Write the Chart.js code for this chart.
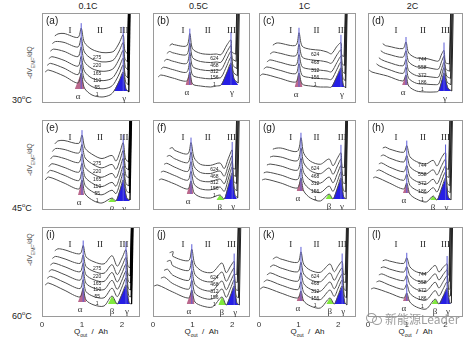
<!DOCTYPE html>
<html>
<head>
<meta charset="utf-8">
<script src="https://cdn.jsdelivr.net/npm/chart.js@4.4.1/dist/chart.umd.min.js"></script>
<style>
  body { margin: 0; background: #fff; }
  #wrap { position: relative; width: 474px; height: 343px; overflow: hidden; font-family: Arial, "Liberation Sans", sans-serif; color: #222; }
  #wrap canvas { position: absolute; }
  .lbl { position: absolute; white-space: nowrap; }
  .ttl { font-size: 9px; width: 60px; text-align: center; }
  .temp { font-size: 9px; }
  .temp sup { font-size: 6px; }
  .ylab { font-size: 7px; color: #555; width: 70px; text-align: center; transform: rotate(-90deg); }
  .xlab { font-size: 8px; width: 80px; text-align: center; }
  .xlab sub, .ylab sub { font-size: 5px; }
  .wm { font-family: "Noto Sans CJK SC", sans-serif; font-size: 12px; color: rgba(140,140,140,0.85); }
  .ring { position: absolute; border: 1px solid rgba(140,140,140,0.85); border-radius: 50%; }
</style>
</head>
<body>
<div id="wrap"></div>
<script>
// ---- data ----
const columnTitles = ['0.1C', '0.5C', '1C', '2C'];
const rowTemps = ['30', '45', '60'];
const panelNames = ['a', 'b', 'c', 'd', 'e', 'f', 'g', 'h', 'i', 'j', 'k', 'l'];
const xTicks = [0, 1, 2];

// cycle numbers written next to the curves (bottom curve first)
const cycleLabels = [
  ['1', '55', '110', '165', '220', '275'],
  ['1', '156', '312', '468', '624'],
  ['1', '156', '312', '468', '624'],
  ['1', '186', '372', '558', '744']
];
const cycleLabelQ = [1.38, 1.55, 1.42, 1.4];
const cycleLabelGap = [0.97, 0.8, 0.86, 1.0];
const numeralQ = [[0.7, 1.45, 2.05], [0.76, 1.38, 1.98], [0.8, 1.45, 2.1], [0.72, 1.42, 2.0]];
// where each curve of a column starts (Q, Ah) and how far its wall sits left
const curveStarts = [
  [0.08, 0.13, 0.17, 0.21, 0.26, 0.32],
  [0.1, 0.2, 0.28, 0.35, 0.42],
  [0.03, 0.12, 0.2, 0.28, 0.35],
  [0.04, 0.22, 0.28, 0.33, 0.38]
];
const wallShift = [
  [0, -0.01, -0.02, -0.02, -0.03, -0.03],
  [0, -0.02, -0.03, -0.05, -0.06],
  [0, -0.01, -0.02, -0.03, -0.04],
  [0, -0.02, -0.03, -0.05, -0.06]
];
// spacing between stacked curves, relative, at each profile point (per column)
const gapScale = [
  [0.95, 0.95, 1.12, 1.2, 1.18, 1.2, 1.2, 1.17, 1.12, 1.05, 1.0, 0.98, 1.02, 1.0, 1.0],
  [0.98, 0.98, 1.05, 1.1, 1.2, 1.1, 1.02, 1.02, 1.0, 0.95, 0.85, 0.72, 0.85, 0.9, 1.0],
  [0.88, 0.88, 1.0, 1.05, 1.15, 1.08, 1.05, 1.05, 1.0, 0.95, 0.85, 0.72, 0.85, 0.9, 1.0],
  [0.88, 0.88, 1.0, 1.08, 1.1, 1.1, 1.1, 1.12, 1.05, 1.0, 0.9, 0.75, 0.85, 0.9, 1.0]
];

// bottom curve of each panel: Q (Ah) and -dV/dQ (arb.)
const qPoints = [
  [0.08, 0.16, 0.55, 0.9, 0.98, 1.06, 1.25, 1.5, 1.7, 1.8, 1.93, 2.03, 2.1, 2.17, 2.22],
  [0.13, 0.2, 0.5, 0.85, 0.93, 1.0, 1.2, 1.45, 1.6, 1.72, 1.87, 1.97, 2.05, 2.15, 2.2],
  [0.02, 0.1, 0.5, 0.93, 1.01, 1.09, 1.3, 1.55, 1.72, 1.83, 1.97, 2.07, 2.13, 2.19, 2.25],
  [0.03, 0.1, 0.5, 0.9, 0.98, 1.05, 1.25, 1.5, 1.7, 1.82, 1.9, 1.96, 2.06, 2.16, 2.22],
  [0.08, 0.16, 0.55, 0.92, 1.0, 1.08, 1.3, 1.5, 1.75, 1.85, 1.95, 2.03, 2.12, 2.2, 2.26],
  [0.15, 0.22, 0.55, 0.88, 0.96, 1.04, 1.2, 1.45, 1.69, 1.8, 1.9, 2.0, 2.07, 2.14, 2.2],
  [0.08, 0.16, 0.55, 0.97, 1.06, 1.13, 1.3, 1.55, 1.77, 1.87, 1.98, 2.07, 2.14, 2.2, 2.26],
  [0.13, 0.2, 0.55, 0.92, 1.0, 1.08, 1.25, 1.5, 1.68, 1.78, 1.9, 2.0, 2.07, 2.14, 2.2],
  [0.08, 0.16, 0.55, 0.95, 1.03, 1.1, 1.3, 1.55, 1.75, 1.88, 2.0, 2.1, 2.18, 2.24, 2.3],
  [0.03, 0.12, 0.5, 0.9, 0.98, 1.06, 1.25, 1.5, 1.74, 1.85, 1.96, 2.05, 2.12, 2.18, 2.24],
  [0.03, 0.12, 0.55, 0.98, 1.06, 1.13, 1.3, 1.55, 1.79, 1.9, 2.0, 2.1, 2.17, 2.22, 2.28],
  [0.08, 0.16, 0.55, 0.92, 1.0, 1.08, 1.25, 1.5, 1.73, 1.83, 1.94, 2.04, 2.11, 2.15, 2.2]
];
const hBottom = [
  [31, 33, 27, 20, 30, 15, 8, 6, 8, 12, 22, 31, 14, 11, 140],
  [26, 28, 25, 22, 31, 19, 17, 16, 17, 18, 31, 40, 24, 20, 140],
  [27, 29, 25, 21, 30, 19, 17, 16, 16, 16, 27, 35, 18, 15, 140],
  [33, 31, 27, 22, 28, 17, 12, 11, 11, 12, 22, 30, 15, 12, 140],
  [30, 33, 27, 21, 30, 16, 9, 7, 12, 9, 20, 30, 12, 10, 140],
  [30, 31, 26, 21, 29, 17, 13, 12, 15, 11, 24, 37, 15, 12, 140],
  [30, 31, 27, 22, 32, 19, 12, 9, 16, 11, 22, 32, 13, 11, 140],
  [32, 33, 27, 21, 27, 16, 11, 8, 14, 10, 22, 32, 13, 10, 140],
  [32, 34, 27, 20, 29, 17, 12, 11, 21, 13, 23, 32, 14, 13, 140],
  [31, 32, 25, 19, 27, 15, 11, 10, 20, 12, 22, 31, 14, 12, 140],
  [28, 30, 24, 19, 26, 16, 11, 9, 19, 13, 22, 31, 14, 12, 140],
  [28, 29, 24, 19, 24, 15, 10, 8, 18, 13, 21, 29, 14, 14, 140]
];
// vertical offset of each cycle curve above the bottom one
const curveOffsets = [
  [0, 7, 14, 22, 30, 38], [0, 8, 16, 24, 32], [0, 8, 16, 25, 35], [0, 7, 14, 22, 30],
  [0, 7, 14, 22, 30, 38], [0, 8, 16, 24, 32], [0, 8, 17, 26, 35], [0, 8, 16, 25, 34],
  [0, 7, 14, 21, 28, 36], [0, 8, 16, 25, 34], [0, 8, 16, 25, 34], [0, 8, 16, 24, 32]
];
// peak areas: alpha [qLeft, qRight, base], beta [qLeft, qRight, base], gamma right edge
const alphaFill = [
  [0.82, 1.06, 14], [0.82, 1.0, 18], [0.9, 1.1, 16], [0.88, 1.03, 18],
  [0.9, 1.05, 15], [0.85, 1.02, 16], [0.95, 1.12, 19], [0.9, 1.06, 17],
  [0.9, 1.1, 15], [0.85, 1.05, 13], [0.95, 1.12, 16], [0.9, 1.06, 16]
];
const betaFill = [
  null, null, null, null,
  [1.65, 1.85, 8], [1.6, 1.8, 10], [1.68, 1.87, 11], [1.6, 1.78, 10],
  [1.65, 1.88, 13], [1.65, 1.85, 12], [1.7, 1.9, 13], [1.64, 1.83, 13]
];
const gammaRight = [2.15, 2.15, 2.16, 2.15, 2.2, 2.12, 2.18, 2.14, 2.22, 2.18, 2.21, 2.15];

// ---- layout ----
const boxLeft = [42, 153, 259, 368];
const boxWidth = [98, 97, 97, 95];
const boxTop = [13, 120, 227];
const boxH = 90;
const PAD = 6;

const wrap = document.getElementById('wrap');
function addLabel(cls, html, left, top) {
  const d = document.createElement('div');
  d.className = 'lbl ' + cls;
  d.innerHTML = html;
  d.style.left = left + 'px';
  d.style.top = top + 'px';
  wrap.appendChild(d);
  return d;
}

columnTitles.forEach((t, c) => addLabel('ttl', t, boxLeft[c] + boxWidth[c] / 2 - 33, 1));
const tempY = [94, 202, 310];
const yLabY = [63, 160, 250];
rowTemps.forEach((t, r) => {
  addLabel('temp', t + '<sup>o</sup>C', 12, tempY[r]);
  addLabel('ylab', '-dV<sub>EMF</sub>/dQ', 31 - 35, yLabY[r] - 5);
});
boxLeft.forEach((x, c) => addLabel('xlab', 'Q<sub>out</sub>&nbsp; / &nbsp;Ah', x + boxWidth[c] / 2 - 40, 327));

const panelText = {
  id: 'panelText',
  afterDatasetsDraw(chart, args, opts) {
    const p = opts.index, col = p % 4;
    const ctx = chart.ctx, a = chart.chartArea;
    const xs = chart.scales.x, ys = chart.scales.y;
    const q = qPoints[p], h = hBottom[p], offs = curveOffsets[p];
    ctx.save();
    ctx.strokeStyle = '#9a9a9a';
    ctx.lineWidth = 1;
    ctx.strokeRect(a.left + 0.5, a.top + 0.5, a.right - a.left - 1, a.bottom - a.top - 1);
    ctx.fillStyle = '#222';
    ctx.textBaseline = 'top';
    ctx.textAlign = 'left';
    ctx.font = '10px Arial';
    ctx.fillText('(' + panelNames[p] + ')', a.left + 4, a.top + 3);
    ctx.textAlign = 'center';
    ctx.font = '9px "Liberation Serif", serif';
    ['I', 'II', 'III'].forEach((n, i) => ctx.fillText(n, xs.getPixelForValue(numeralQ[col][i]), a.top + 13));
    ctx.fillStyle = '#333';
    ctx.fillText('\u03b1', xs.getPixelForValue(q[4]) - 3, ys.getPixelForValue(alphaFill[p][2]) + 3);
    if (betaFill[p]) ctx.fillText('\u03b2', xs.getPixelForValue(q[8]), ys.getPixelForValue(betaFill[p][2]) + 3);
    ctx.fillText('\u03b3', xs.getPixelForValue(q[11]) + 1, ys.getPixelForValue(h[9]) + 3);
    ctx.font = '5px Arial';
    ctx.textBaseline = 'middle';
    ctx.fillStyle = '#222';
    cycleLabels[col].forEach((t, k) => {
      ctx.fillText(t, xs.getPixelForValue(cycleLabelQ[col]), ys.getPixelForValue(h[7] + offs[k] * cycleLabelGap[col] + 2.5));
    });
    ctx.restore();
  }
};
Chart.register(panelText);

function lineSet(data, color, width, extra) {
  return Object.assign({ data, borderColor: color, borderWidth: width, pointRadius: 0, tension: 0, fill: false }, extra || {});
}

function panelDatasets(p) {
  const col = p % 4, q = qPoints[p], h = hBottom[p], offs = curveOffsets[p], g = gapScale[col];
  const top = offs[offs.length - 1];
  const ds = [];
  const blue = '#5c5cd8';
  const af = alphaFill[p];
  ds.push(lineSet([{ x: q[4], y: af[2] }, { x: q[4], y: Math.min(h[4] + top * g[4] + 5, 86) }], blue, 1));
  ds.push(lineSet([{ x: q[11], y: h[9] }, { x: q[11], y: Math.min(h[11] + top * g[11] + 8, 86) }], blue, 1));
  offs.forEach((o, k) => {
    const s = wallShift[col][k];
    ds.push(lineSet([{ x: q[13] + s, y: h[13] + o * g[13] }, { x: q[14] + s, y: h[14] }],
      col === 0 ? '#000' : '#222', col === 0 ? 1.3 : 1));
  });
  offs.forEach((o, k) => {
    const s = wallShift[col][k];
    const st = k === 0 ? q[0] : curveStarts[col][k];
    const pts = [];
    for (let j = 0; j <= 13; j++) {
      let x = q[j];
      if (j === 0) x = st;
      if (j === 1) x = st + (q[1] - q[0]);
      if (j >= 12) x += s;
      pts.push({ x, y: h[j] + o * g[j] });
    }
    ds.push(lineSet(pts, '#4d4d4d', 1, { tension: 0.3 }));
  });
  ds.push(lineSet([{ x: af[0], y: af[2] }, { x: q[4], y: h[4] }, { x: af[1], y: af[2] }],
    'rgba(0,0,0,0)', 0, { fill: { value: af[2] }, backgroundColor: 'rgb(186,104,140)' }));
  const bf = betaFill[p];
  if (bf) {
    ds.push(lineSet([{ x: bf[0], y: bf[2] }, { x: q[8], y: h[8] }, { x: bf[1], y: bf[2] }],
      'rgba(0,0,0,0)', 0, { fill: { value: bf[2] }, backgroundColor: 'rgb(128,232,60)' }));
  }
  ds.push(lineSet([{ x: q[9], y: h[9] }, { x: q[11], y: h[11] }, { x: q[12], y: h[12] }, { x: gammaRight[p], y: h[9] }],
    'rgba(0,0,0,0)', 0, { fill: { value: h[9] }, backgroundColor: 'rgb(38,30,228)' }));
  return ds;
}

for (let p = 0; p < 12; p++) {
  const row = Math.floor(p / 4), col = p % 4;
  const bottomRow = row === 2;
  const cv = document.createElement('canvas');
  const w = boxWidth[col] + PAD * 2, hgt = boxH + (bottomRow ? 14 : 0);
  cv.width = w; cv.height = hgt;
  cv.style.left = (boxLeft[col] - PAD) + 'px';
  cv.style.top = boxTop[row] + 'px';
  cv.style.width = w + 'px'; cv.style.height = hgt + 'px';
  wrap.appendChild(cv);
  new Chart(cv.getContext('2d'), {
    type: 'line',
    data: { datasets: panelDatasets(p) },
    options: {
      responsive: false,
      animation: false,
      devicePixelRatio: 1,
      layout: { padding: { left: PAD, right: PAD, top: 0, bottom: 0 } },
      plugins: { legend: { display: false }, tooltip: { enabled: false }, panelText: { index: p } },
      scales: {
        x: {
          type: 'linear', min: 0, max: 2.45,
          display: bottomRow,
          grid: { display: false, drawTicks: false },
          border: { display: false },
          afterBuildTicks: s => { s.ticks = xTicks.map(v => ({ value: v })); },
          afterFit: s => { s.height = bottomRow ? 14 : 0; },
          ticks: { font: { size: 8, family: 'Arial' }, color: '#333', padding: 3 }
        },
        y: { type: 'linear', min: 0, max: boxH, display: false }
      }
    }
  });
}

// watermark
const r1 = document.createElement('div'); r1.className = 'ring';
Object.assign(r1.style, { left: '366px', top: '313px', width: '9px', height: '8px' });
const r2 = document.createElement('div'); r2.className = 'ring';
Object.assign(r2.style, { left: '372px', top: '316px', width: '8px', height: '7px' });
wrap.appendChild(r1); wrap.appendChild(r2);
addLabel('wm', '新能源Leader', 385, 310);
</script>
</body>
</html>
